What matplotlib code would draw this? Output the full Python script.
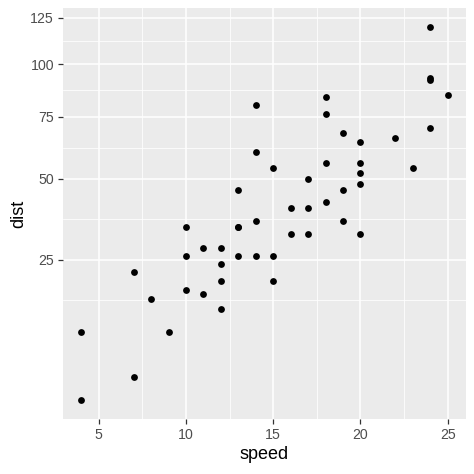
import numpy as np
import matplotlib
matplotlib.use("Agg")
import matplotlib.pyplot as plt

# cars data (speed vs stopping distance)
speed = [4, 4, 7, 7, 8, 9, 10, 10, 10, 11, 11, 12, 12, 12, 12, 13, 13, 13, 13,
         14, 14, 14, 14, 15, 15, 15, 16, 16, 17, 17, 17, 18, 18, 18, 18, 19, 19,
         19, 20, 20, 20, 20, 20, 22, 23, 24, 24, 24, 24, 25]
dist = [2, 10, 4, 22, 16, 10, 18, 26, 34, 17, 28, 14, 20, 24, 28, 26, 34, 34, 46,
        26, 36, 60, 80, 20, 26, 54, 32, 40, 32, 40, 50, 42, 56, 76, 84, 36, 46,
        68, 32, 48, 52, 56, 64, 66, 54, 70, 92, 93, 120, 85]

x_ticks = [5, 10, 15, 20, 25]
y_ticks = [25, 50, 75, 100, 125]

plt.rcParams["font.family"] = ["Liberation Sans", "DejaVu Sans"]

fig = plt.figure(figsize=(4.74, 4.74), dpi=100)
ax = fig.add_axes([63 / 474, 55 / 474, 403 / 474, 411 / 474])
ax.set_facecolor("#EBEBEB")

ax.set_yscale("function", functions=(lambda v: np.sqrt(np.clip(v, 0, None)),
                                     lambda v: np.square(v)))

# limits with ggplot-style 5% expansion (in transformed space for y)
xr = max(speed) - min(speed)
ax.set_xlim(min(speed) - 0.05 * xr, max(speed) + 0.05 * xr)
sy = np.sqrt([min(dist), max(dist)])
ey = 0.05 * (sy[1] - sy[0])
ax.set_ylim((sy[0] - ey) ** 2, (sy[1] + ey) ** 2)

ax.set_xticks(x_ticks)
ax.set_yticks(y_ticks)

# minor breaks: midpoints between majors (sqrt space for y)
sq = np.sqrt(y_ticks)
sq = np.concatenate([[sq[0] - (sq[1] - sq[0])], sq])
y_minor = ((sq[:-1] + sq[1:]) / 2) ** 2
x_minor = [7.5, 12.5, 17.5, 22.5]
ax.set_xticks(x_minor, minor=True)
ax.set_yticks(y_minor, minor=True)

ax.grid(which="major", color="white", linewidth=1.1)
ax.grid(which="minor", color="white", linewidth=0.55)
ax.set_axisbelow(True)
for s in ax.spines.values():
    s.set_visible(False)

ax.tick_params(which="major", length=3.5, width=0.9, color="#333333",
               labelsize=10.2, labelcolor="#4D4D4D", pad=3)
ax.tick_params(which="minor", length=0)

ax.scatter(speed, dist, s=24, color="black", linewidths=0, zorder=3)

ax.set_xlabel("speed", fontsize=13, labelpad=3)
ax.set_ylabel("dist", fontsize=13, labelpad=2)

fig.savefig("out.png", dpi=100)
